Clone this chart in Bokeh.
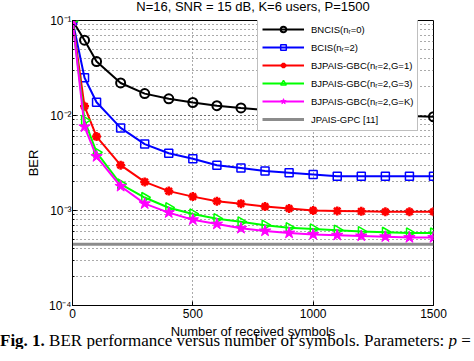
import math
from bokeh.plotting import figure
from bokeh.layouts import column
from bokeh.models import (Legend, LegendItem, FixedTicker, CustomJSTickFormatter,
                          Range1d, Div)
from bokeh.embed import file_html
from bokeh.resources import INLINE

# ---- data ----
symbols = [0, 50, 100, 200, 300, 400, 500, 600, 700, 800, 900, 1000, 1100, 1200, 1300, 1400, 1500]
ber_bncis = [0.1, 0.062, 0.037, 0.022, 0.017, 0.015, 0.0137, 0.0127, 0.012, 0.0114, 0.011,
             0.0107, 0.0104, 0.0102, 0.0100, 0.0099, 0.0097]
ber_bcis = [0.1, 0.025, 0.0138, 0.0074, 0.005, 0.004, 0.0035, 0.003, 0.0028, 0.0026, 0.0025,
            0.0024, 0.0023, 0.0023, 0.0023, 0.0023, 0.0023]
ber_g1 = [0.1, 0.0125, 0.006, 0.003, 0.002, 0.0016, 0.0014, 0.00125, 0.00118, 0.0011, 0.00105,
          0.001, 0.00099, 0.00098, 0.00097, 0.00097, 0.00097]
ber_g3 = [0.1, 0.0089, 0.0041, 0.0019, 0.00137, 0.00107, 0.00092, 0.00082, 0.00076, 0.0007,
          0.00066, 0.00064, 0.00062, 0.0006, 0.00059, 0.00058, 0.00058]
ber_gk = [0.1, 0.0076, 0.0037, 0.0018, 0.00118, 0.00095, 0.0008, 0.00072, 0.00065, 0.00061,
          0.00058, 0.00056, 0.00055, 0.00054, 0.00053, 0.00052, 0.00052]
jpais_level = 0.00044
jpais_x = [0, 1500]

series_names = ["BNCIS(n\u1d63=0)", "BCIS(n\u1d63=2)", "BJPAIS-GBC(n\u1d63=2,G=1)",
                "BJPAIS-GBC(n\u1d63=2,G=3)", "BJPAIS-GBC(n\u1d63=2,G=K)", "JPAIS-GPC [11]"]
x_ticks = [0, 500, 1000, 1500]
title_text = "N=16, SNR = 15 dB, K=6 users, P=1500"
caption_bold = "Fig. 1."
caption_text = "BER performance versus number of symbols. Parameters: "

SANS = "Liberation Sans"
SERIF = "Liberation Serif"

p = figure(frame_width=361, frame_height=285, output_backend="svg", toolbar_location=None,
           y_axis_type="log", x_range=Range1d(0, 1500), y_range=Range1d(1e-4, 1e-1),
           min_border_left=72, min_border_right=41, min_border_top=8, min_border_bottom=36,
           margin=0)
p.background_fill_color = "white"
p.border_fill_color = None
p.outline_line_color = "black"
p.outline_line_width = 1

# grid
for g in (p.xgrid, p.ygrid):
    g.grid_line_color = "#555555"
    g.grid_line_dash = "1 3"
    g.grid_line_width = 1
p.ygrid.minor_grid_line_color = "#555555"
p.ygrid.minor_grid_line_dash = "1 3"
p.xgrid.ticker = FixedTicker(ticks=x_ticks)

# axes
p.xaxis.ticker = FixedTicker(ticks=x_ticks)
p.xaxis.minor_tick_line_color = None
for ax in (p.xaxis, p.yaxis):
    ax.major_tick_in = 4
    ax.major_tick_out = 0
    ax.minor_tick_in = 2
    ax.minor_tick_out = 0
    ax.axis_line_color = "black"
    ax.major_label_text_font = SANS
    ax.major_label_text_font_size = "12px"
    ax.major_label_text_color = "black"
    ax.axis_label_text_font = SANS
    ax.axis_label_text_font_size = "13px"
    ax.axis_label_text_font_style = "normal"
    ax.axis_label_text_color = "black"
p.xaxis.axis_label = "Number of received symbols"
p.xaxis.major_label_standoff = 3
p.xaxis.axis_label_standoff = 3
p.yaxis.axis_label = "BER"
p.yaxis.major_label_standoff = 1
p.yaxis.axis_label_standoff = 5
p.yaxis.formatter = CustomJSTickFormatter(code="""
const e = Math.round(Math.log10(tick));
const sup = {"-":"\u207b","0":"\u2070","1":"\u00b9","2":"\u00b2","3":"\u00b3","4":"\u2074","5":"\u2075"};
return "10" + String(e).split("").map(c => sup[c]).join("");
""")

items = []
r = p.line(jpais_x, [jpais_level, jpais_level], line_color="#8c8c8c", line_width=3)
gray_item = LegendItem(label=series_names[5], renderers=[r])

l0 = p.line(symbols, ber_bncis, line_color="black", line_width=2)
m0 = p.scatter(symbols, ber_bncis, marker="circle", size=9, line_color="black",
               fill_color=None, line_width=2)
items.append(LegendItem(label=series_names[0], renderers=[l0, m0]))

l1 = p.line(symbols, ber_bcis, line_color="#0000ff", line_width=2)
m1 = p.scatter(symbols, ber_bcis, marker="square", size=8, line_color="#0000ff",
               fill_color=None, line_width=1.5)
items.append(LegendItem(label=series_names[1], renderers=[l1, m1]))

l2 = p.line(symbols, ber_g1, line_color="#ff0000", line_width=2)
m2 = p.scatter(symbols, ber_g1, marker="asterisk", size=9, line_color="#ff0000",
               line_width=2.5)
items.append(LegendItem(label=series_names[2], renderers=[l2, m2]))

l3 = p.line(symbols, ber_g3, line_color="#00ff00", line_width=2)
m3 = p.scatter(symbols, ber_g3, marker="triangle", size=10, angle=-math.pi / 2,
               line_color="#00ff00", fill_color=None, line_width=1.5)
items.append(LegendItem(label=series_names[3], renderers=[l3, m3]))

l4 = p.line(symbols, ber_gk, line_color="#ff00ff", line_width=2)
m4 = p.scatter(symbols, ber_gk, marker="star", size=12, line_color="#ff00ff",
               fill_color="#ff00ff", line_width=1)
items.append(LegendItem(label=series_names[4], renderers=[l4, m4]))
items.append(gray_item)

legend = Legend(items=items, location=(185, 174))
legend.label_text_font = SANS
legend.label_text_font_size = "9.5px"
legend.label_text_color = "black"
legend.glyph_width = 42
legend.glyph_height = 14
legend.label_height = 14
legend.spacing = 4
legend.padding = 4
legend.margin = 0
legend.label_standoff = 7
legend.border_line_color = "#808080"
legend.border_line_width = 1.5
legend.background_fill_alpha = 1
p.add_layout(legend)

title = Div(
    text=("<div style=\"position:relative;width:474px;height:12px\">"
          "<span style=\"position:absolute;left:253px;top:0px;transform:translateX(-50%);"
          "white-space:nowrap;font-family:'Liberation Sans',sans-serif;font-size:13px;"
          "line-height:14px;color:black\">" + title_text + "</span></div>"),
    width=474, height=12, margin=0)

caption = Div(
    text=("<div style=\"position:relative;top:-9px;font-family:'Liberation Serif',serif;"
          "font-size:17px;line-height:17px;white-space:nowrap;overflow:hidden;width:474px;"
          "color:black\">"
          "<b>" + caption_bold + "</b> " + caption_text + "<i>p</i> =</div>"),
    width=474, height=18, margin=0)

layout = column(title, p, caption, spacing=0)
open("out.html", "w").write(file_html(layout, INLINE))
